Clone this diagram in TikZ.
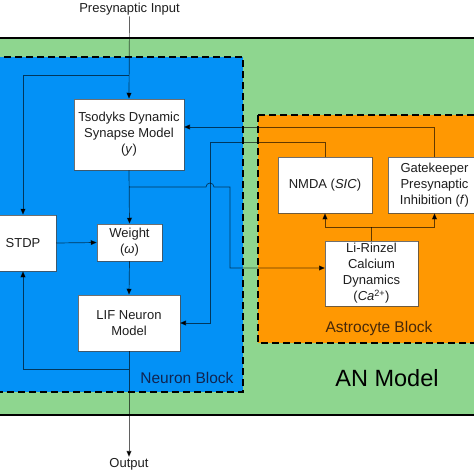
\documentclass[tikz,border=0pt]{standalone}
\usepackage{fontspec}
\setmainfont{Liberation Sans}
\usetikzlibrary{arrows.meta}
\definecolor{angreen}{RGB}{142,214,143}
\definecolor{nblue}{RGB}{3,145,246}
\definecolor{aorange}{RGB}{255,152,2}
\definecolor{txt}{RGB}{30,30,30}
\definecolor{navytxt}{RGB}{16,36,80}
\definecolor{browntxt}{RGB}{70,40,10}
\tikzset{
  blockbox/.style={draw=black,line width=1.4pt,dash pattern=on 7pt off 4pt},
  unit/.style={draw=black!70,draw opacity=0.8,line width=0.5pt,fill=white,align=center,
    inner sep=0pt,text=txt,font=\fontsize{13}{16}\selectfont},
  wire/.style={draw=black,draw opacity=0.62,line width=0.7pt},
  arr/.style={wire,-{Triangle[length=6pt,width=5pt]}},
  plain/.style={text=txt,font=\fontsize{13}{16}\selectfont,inner sep=1pt}
}
\begin{document}
\begin{tikzpicture}[x=1pt,y=-1pt]
\useasboundingbox (0,0) rectangle (474,474);
\clip (0,0) rectangle (474,474);
\fill[white] (0,0) rectangle (474,474);
% AN model region
\draw[fill=angreen,line width=1.3pt] (-10,38) rectangle (484,415);
\node[font=\fontsize{23.5}{26}\selectfont,text=black] (anlabel) at (387,378) {AN Model};
% Neuron block
\path[fill=nblue] (-10,57) rectangle (243,392);
\draw[blockbox] (-10,57) rectangle (243,392);
\node[font=\fontsize{15.5}{18}\selectfont,text=navytxt,anchor=east] (nlabel) at (237,378) {Neuron Block};
% Astrocyte block
\path[fill=aorange] (258,115) rectangle (490,343);
\draw[blockbox] (258,115) rectangle (490,343);
\node[font=\fontsize{15.5}{18}\selectfont,text=browntxt] (alabel) at (379,328) {Astrocyte Block};
% units
\node[unit,minimum width=110pt,minimum height=71pt] (tso) at (129,134.5) {Tsodyks Dynamic\\Synapse Model\\(\textit{y})};
\node[unit,minimum width=66pt,minimum height=56pt] (stdp) at (23,243) {STDP};
\node[unit,minimum width=65pt,minimum height=37pt] (wt) at (129.5,242.5) {Weight\\(\textit{ω})};
\node[unit,minimum width=102pt,minimum height=56pt] (lif) at (129,323) {LIF Neuron\\Model};
\node[unit,minimum width=94pt,minimum height=56pt] (nmda) at (325,185) {NMDA (\textit{SIC})};
\node[unit,minimum width=93pt,minimum height=56pt] (gate) at (434.5,185) {Gatekeeper\\Presynaptic\\Inhibition (\textit{f})};
\node[unit,minimum width=93pt,minimum height=65pt] (li) at (371.5,273.5) {Li-Rinzel\\Calcium\\Dynamics\\(\textit{Ca}\textsuperscript{2+})};
\node[plain] (in) at (129.5,9) {Presynaptic Input};
\node[plain] (out) at (129,464) {Output};
% junctions
\coordinate (j1) at (129,75);
\coordinate (j2) at (129,369);
\coordinate (j3) at (371.5,227);
\coordinate (tsoin) at (184,127);
\coordinate (lifin) at (180,323);
\coordinate (liin) at (325,268);
\coordinate (nm1) at (210,142);
\coordinate (tb) at (129,187);
\coordinate (hopa) at (206,187);
\coordinate (hopb) at (214,187);
\coordinate (tr) at (230,187);
% connectors
\draw[arr] (in.south) -- (tso.north);
\draw[arr] (j1) -| (stdp.north);
\draw[arr] (tso.south) -- (wt.north);
\draw[arr] (stdp.east) -- (wt.west);
\draw[arr] (wt.south) -- (lif.north);
\draw[arr] (lif.south) -- (out.north);
\draw[arr] (j2) -| (stdp.south);
\draw[arr] (gate.north) |- (tsoin);
\draw[arr] (nmda.north) |- (nm1) |- (lifin);
\draw[arr] (tb) -- (hopa) arc[start angle=180,end angle=0,radius=4pt] -- (tr) |- (liin);
\draw[wire] (li.north) -- (j3);
\draw[arr] (j3) -| (nmda.south);
\draw[arr] (j3) -| (gate.south);
\end{tikzpicture}
\end{document}
